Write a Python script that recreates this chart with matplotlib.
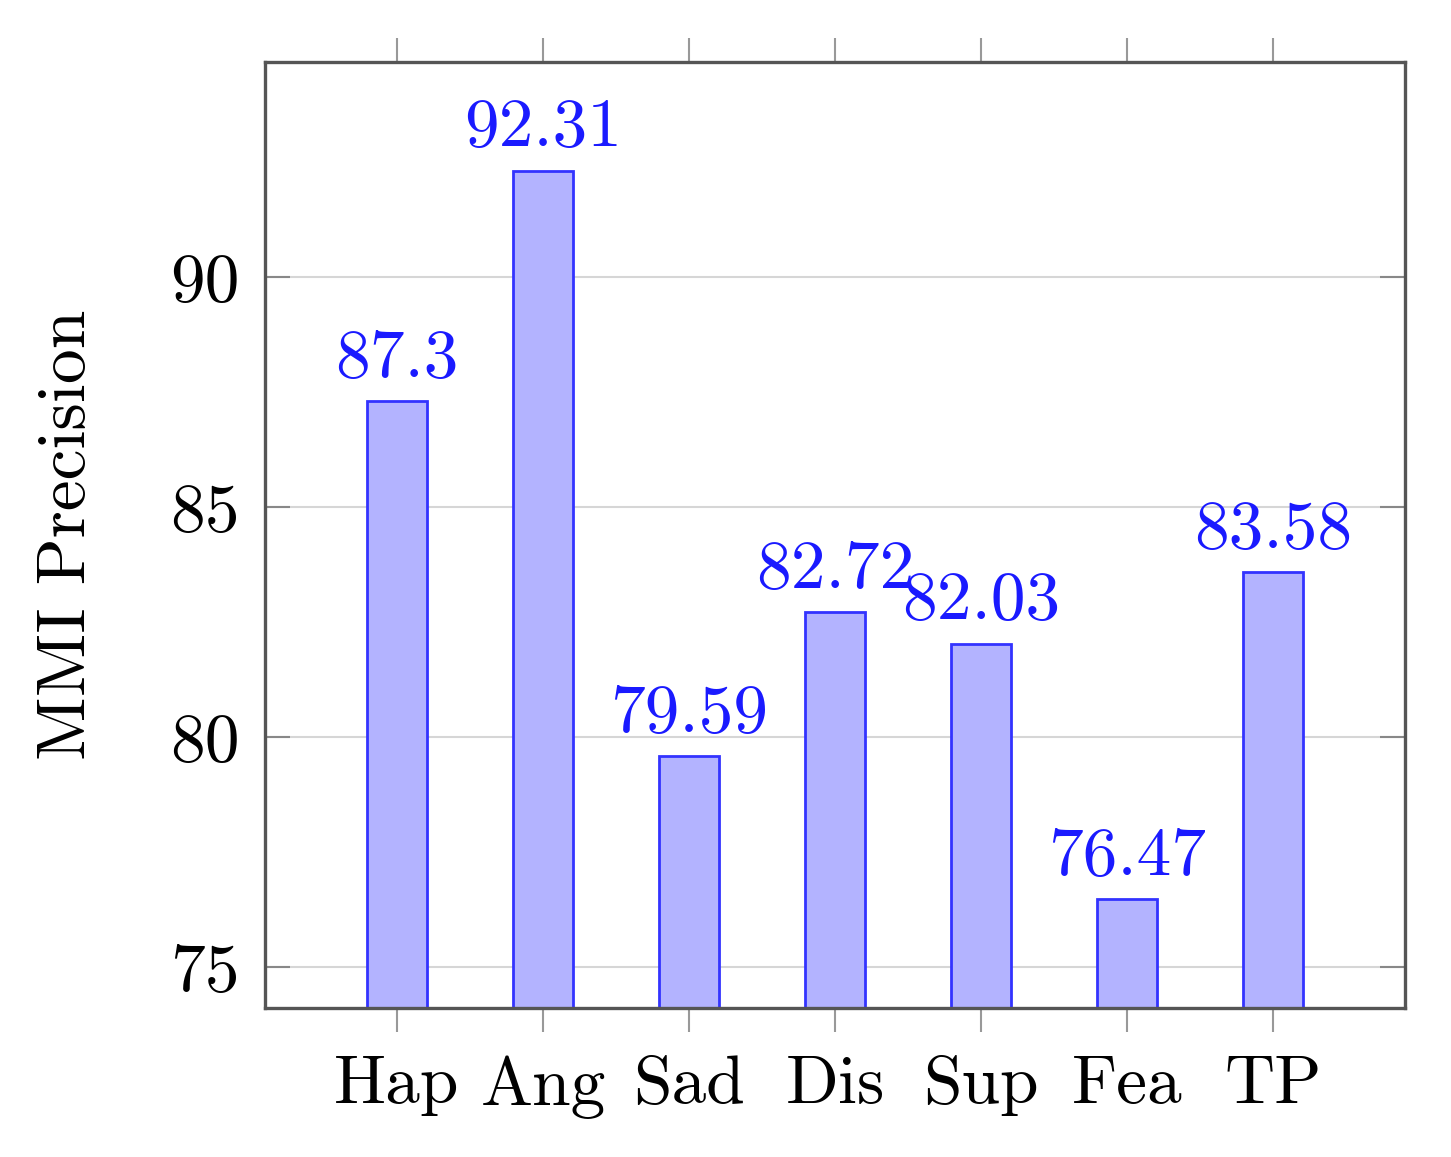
import matplotlib
matplotlib.use("Agg")
import matplotlib.pyplot as plt

# Data
categories = ['Hap', 'Ang', 'Sad', 'Dis', 'Sup', 'Fea', 'TP']
precision = [87.3, 92.31, 79.59, 82.72, 82.03, 76.47, 83.58]
value_labels = ['87.3', '92.31', '79.59', '82.72', '82.03', '76.47', '83.58']
yticks = [75, 80, 85, 90]

plt.rcParams['font.family'] = ['cmr10', 'DejaVu Serif']
plt.rcParams['axes.formatter.use_mathtext'] = True

fig = plt.figure(figsize=(14.51, 11.57), dpi=100)
ax = fig.add_axes([0.1826, 0.1288, 0.7857, 0.8176])

x = list(range(len(categories)))
ax.bar(x, precision, width=0.41, bottom=0, color='#b3b3ff', edgecolor='#3333ff',
       linewidth=2.0, zorder=3)

# value labels above the bars
for xi, v, lab in zip(x, precision, value_labels):
    ax.annotate(lab, (xi, v), xytext=(0, 8), textcoords='offset points',
                ha='center', va='bottom', fontsize=50, color='#1a1aff', zorder=4)

ax.set_xlim(-0.904, 6.904)
ax.set_ylim(74.11, 94.67)

ax.set_xticks(x)
ax.set_xticklabels(categories, fontsize=50)
ax.set_yticks(yticks)
ax.set_yticklabels([str(t) for t in yticks], fontsize=50)

ax.tick_params(axis='x', direction='out', length=17, width=1.5, color='#999999',
               top=True, bottom=True, pad=17)
ax.tick_params(axis='y', direction='in', length=18, width=1.5, color='#888888',
               left=True, right=True, pad=18)

ax.grid(axis='y', color='#d6d6d6', linewidth=1.5, zorder=0)
ax.set_axisbelow(True)

for sp in ax.spines.values():
    sp.set_color('#555555')
    sp.set_linewidth(2.4)
    sp.set_zorder(5)

ax.set_ylabel('MMI Precision', fontsize=50, labelpad=52)

fig.savefig('out.png', dpi=100)
